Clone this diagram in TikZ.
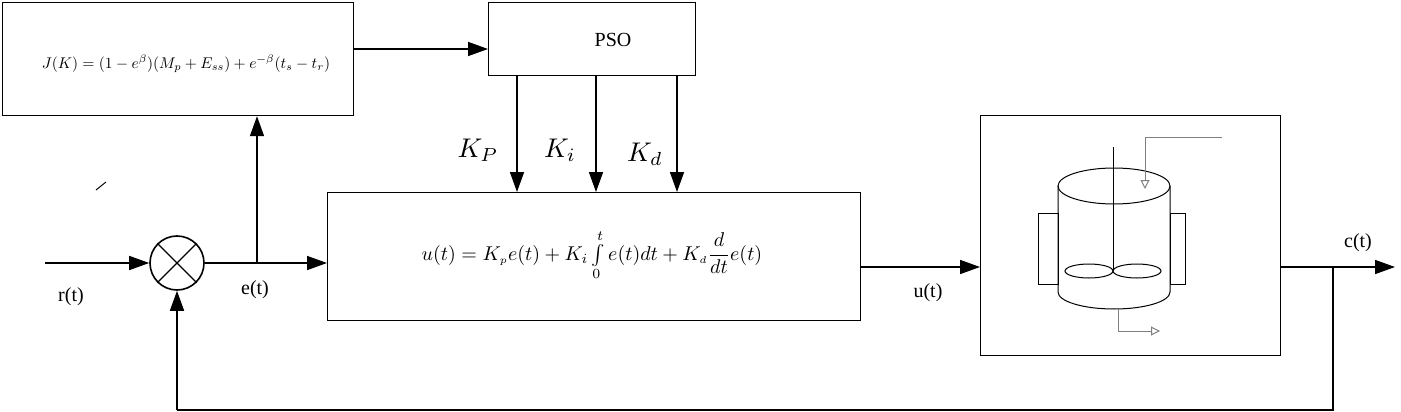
\documentclass[tikz,border=0pt]{standalone}
\usepackage{fontspec}
\setmainfont{Liberation Serif}
\usetikzlibrary{arrows.meta}
\begin{document}
\begin{tikzpicture}[x=1pt,y=-1pt,
  blk/.style={draw,line width=1.2pt},
  sig/.style={line width=1.6pt,-{Triangle[length=20pt,width=14pt]}},
  ln/.style={line width=1.6pt},
  lab/.style={font=\fontsize{20}{22}\selectfont},
  tk/.style={line width=1pt},
  open/.style={draw=gray,line width=1pt,-{Triangle[open,length=9pt,width=9pt]}}]
\useasboundingbox (0,0) rectangle (1401,412);
% boxes
\node[blk,minimum width=351pt,minimum height=113pt,anchor=north west,inner sep=0] (J) at (2,2) {};
\node[scale=1.55] at (186,64) {$J(K)=(1-e^{\beta})(M_p+E_{ss})+e^{-\beta}(t_s-t_r)$};
\node[blk,minimum width=207pt,minimum height=73pt,anchor=north west,inner sep=0] (P) at (488,2) {};
\node[lab] at (613,40) {PSO};
\node[blk,minimum width=533pt,minimum height=128pt,anchor=north west,inner sep=0] (C) at (327,192) {};
\node[scale=2.0] at (592,255) {$u(t)=K_{\scriptscriptstyle p}e(t)+K_i\int\limits_0^t e(t)dt+K_{\scriptscriptstyle d}{\displaystyle\frac{d}{dt}}e(t)$};
\node[blk,minimum width=300pt,minimum height=240pt,anchor=north west,inner sep=0] (G) at (980,115) {};
\node[draw,circle,line width=1.6pt,minimum size=54pt,inner sep=0] (S) at (177,263) {};
\draw[line width=1.4pt] (S.north west)--(S.south east) (S.north east)--(S.south west);
% coordinates
\coordinate (r0) at (45,263);
\coordinate (eb) at (257,263);
\coordinate (co) at (1395,267);
\coordinate (cb) at (1333,267);
\coordinate (fb) at (1333,410);
\coordinate (fl) at (177,410);
% signals
\draw[sig] (r0) -- (S.west);
\draw[sig] (S.east) -- (C.west|-S.east);
\draw[sig] (eb) -- (eb|-J.south);
\draw[sig] (J.east|-0,49) -- (P.west|-0,49);
\foreach \x in {517,596,677} \draw[sig] (\x,75) -- (\x,192);
\draw[sig] (C.east|-0,267) -- (G.west|-0,267);
\draw[sig] (G.east|-0,267) -- (co);
\draw[ln] (cb) -- (fb) -- (fl);
\draw[sig] (fl) -- (S.south);
\draw[line width=1pt] (96,190) -- (106,182);
% labels
\node[lab] at (71,297) {r(t)};
\node[lab] at (255,290) {e(t)};
\node[lab] at (928,293) {u(t)};
\node[lab] at (1358,243) {c(t)};
\node[scale=2.7] at (478,150) {$K_P$};
\node[scale=2.7] at (560,150) {$K_i$};
\node[scale=2.7] at (645,154) {$K_d$};
% tank
\draw[tk] (1114,186) ellipse (56pt and 18pt);
\draw[tk] (1058,186) -- (1058,292) arc[start angle=180,end angle=360,x radius=56pt,y radius=17pt] -- (1170,186);
\draw[tk] (1038,213) rectangle (1058,284);
\draw[tk] (1170,213) rectangle (1185,284);
\draw[tk] (1113,147) -- (1113,271);
\draw[tk] (1089,271) ellipse (24pt and 7pt);
\draw[tk] (1137,271) ellipse (24pt and 7pt);
\draw[open] (1222,137) -- (1145,137) -- (1145,189);
\draw[open] (1118,309) -- (1118,331) -- (1160,331);
\end{tikzpicture}
\end{document}
